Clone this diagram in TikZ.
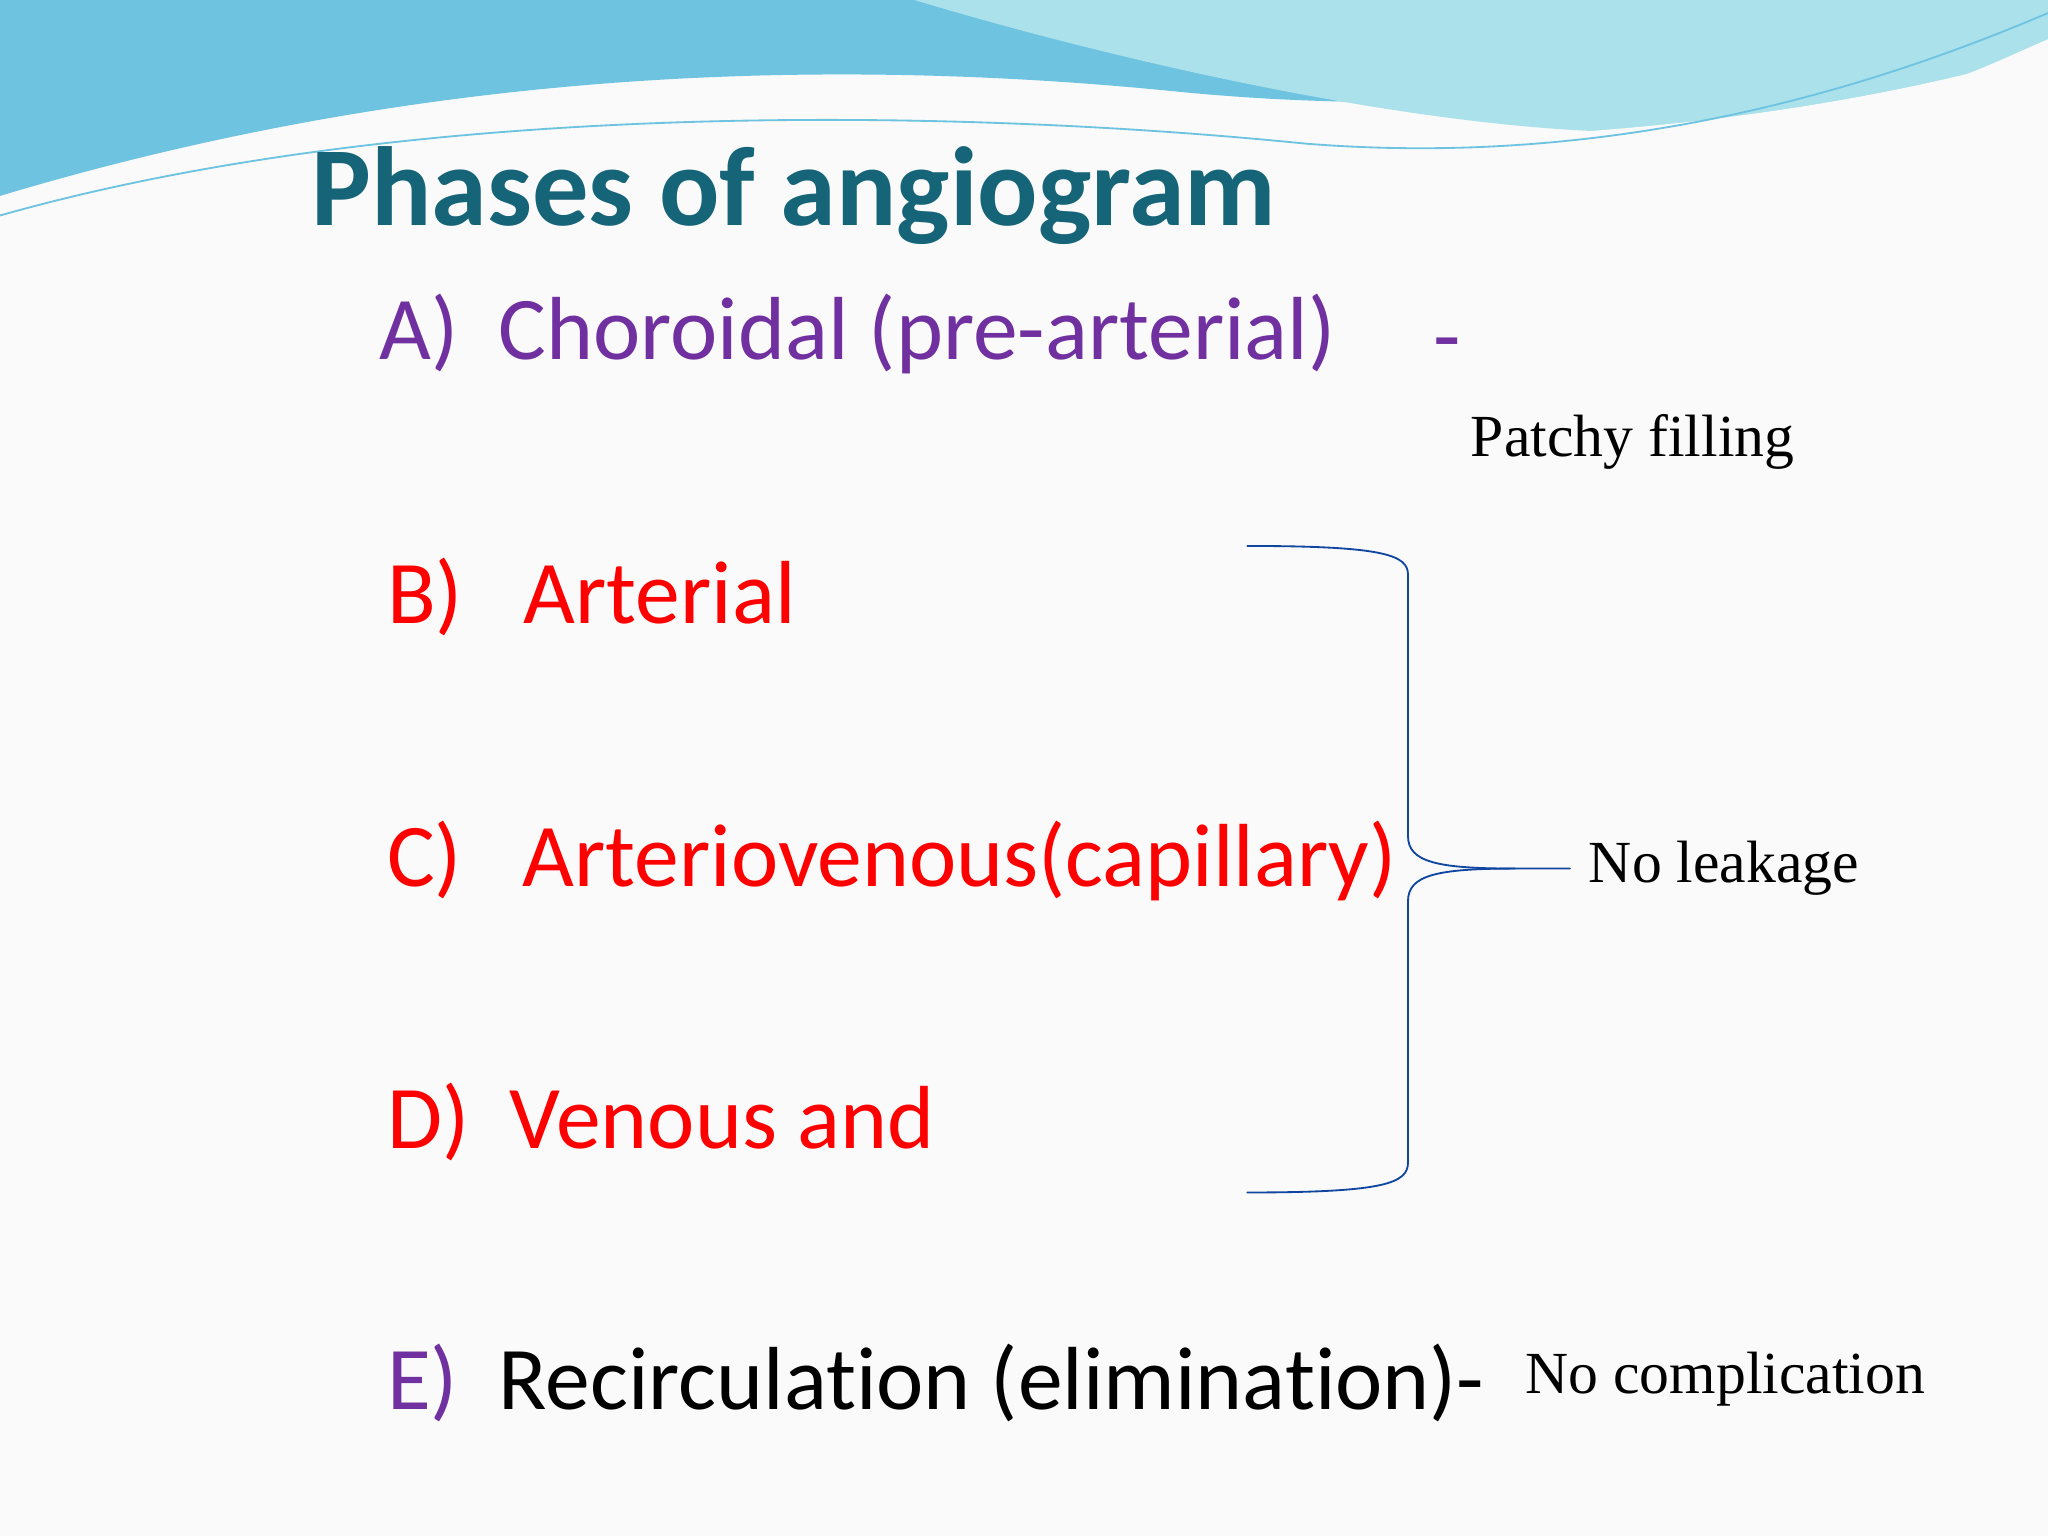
\documentclass[tikz,border=0pt]{standalone}
\usepackage{fontspec}
\setmainfont{Liberation Serif}
\newfontfamily\slidefont[Contextuals=NoAlternate,Ligatures=NoCommon]{Carlito}
\definecolor{titleteal}{RGB}{22,100,120}
\definecolor{itempurple}{RGB}{112,48,160}
\definecolor{wavelight}{RGB}{170,225,235}
\definecolor{wavemid}{RGB}{110,195,225}
\tikzset{
  item/.style={anchor=west, font=\slidefont\fontsize{19.5}{24}\selectfont},
  note/.style={anchor=center, font=\fontsize{13}{16}\selectfont}
}
\begin{document}
\begin{tikzpicture}[x=0.01cm,y=-0.01cm, line join=round, line cap=round]
\useasboundingbox (0,0) rectangle (1568,1176);
\fill[white!96!gray] (0,0) rectangle (1568,1176);
% top waves
\fill[wavemid] (0,0) -- (0,150) .. controls (300,60) and (600,40) .. (900,70) .. controls (1150,95) and (1400,60) .. (1568,0) -- cycle;
\fill[wavelight] (700,0) .. controls (900,60) and (1150,110) .. (1300,100) .. controls (1450,90) and (1520,50) .. (1568,30) -- (1568,0) -- cycle;
\fill[white!96!gray] (0,175) .. controls (300,90) and (600,80) .. (900,100) .. controls (1150,120) and (1400,90) .. (1568,40) -- (1568,80) .. controls (1400,110) and (1150,125) .. (900,115) .. controls (600,105) and (300,110) .. (0,175) -- cycle;
\draw[wavemid, thin] (0,165) .. controls (300,80) and (700,80) .. (1000,110) .. controls (1250,130) and (1450,60) .. (1568,10);
% title and items
\node[anchor=west, text=titleteal, font=\slidefont\bfseries\fontsize{24.5}{29}\selectfont] (title) at (226,150) {Phases of angiogram};
\node[item, text=itempurple] (itemA) at (278,256) {A)\ \ Choroidal (pre-arterial)};
\node[item, text=itempurple] (dashA) at (1085,270) {-};
\node[item, text=red] (itemB) at (284,457) {B)\ \ \ Arterial};
\node[item, text=red] (itemC) at (284,659) {C)\ \ \ Arteriovenous(capillary)};
\node[item, text=red] (itemD) at (284,859) {D)\ \ Venous and};
\node[item] (itemE) at (284,1059) {\textcolor{itempurple}{E)}\ \ Recirculation (elimination)-};
\node[note] (patchy) at (1250,338) {Patchy filling};
\node[note] (leak) at (1320,665) {No leakage};
\node[note] (nocomp) at (1321,1056) {No complication};
% brace
\coordinate (btop) at (955,418);
\coordinate (bbot) at (955,913);
\coordinate (btip) at (1202,665);
\draw[titleteal!70!blue, thin] (btop) .. controls (1060,418) and (1078,425) .. (1078,440) -- (1078,640) .. controls (1078,660) and (1100,665) .. (1160,665) -- (btip);
\draw[titleteal!70!blue, thin] (bbot) .. controls (1060,913) and (1078,906) .. (1078,890) -- (1078,690) .. controls (1078,670) and (1100,665) .. (1160,665);
\end{tikzpicture}
\end{document}
